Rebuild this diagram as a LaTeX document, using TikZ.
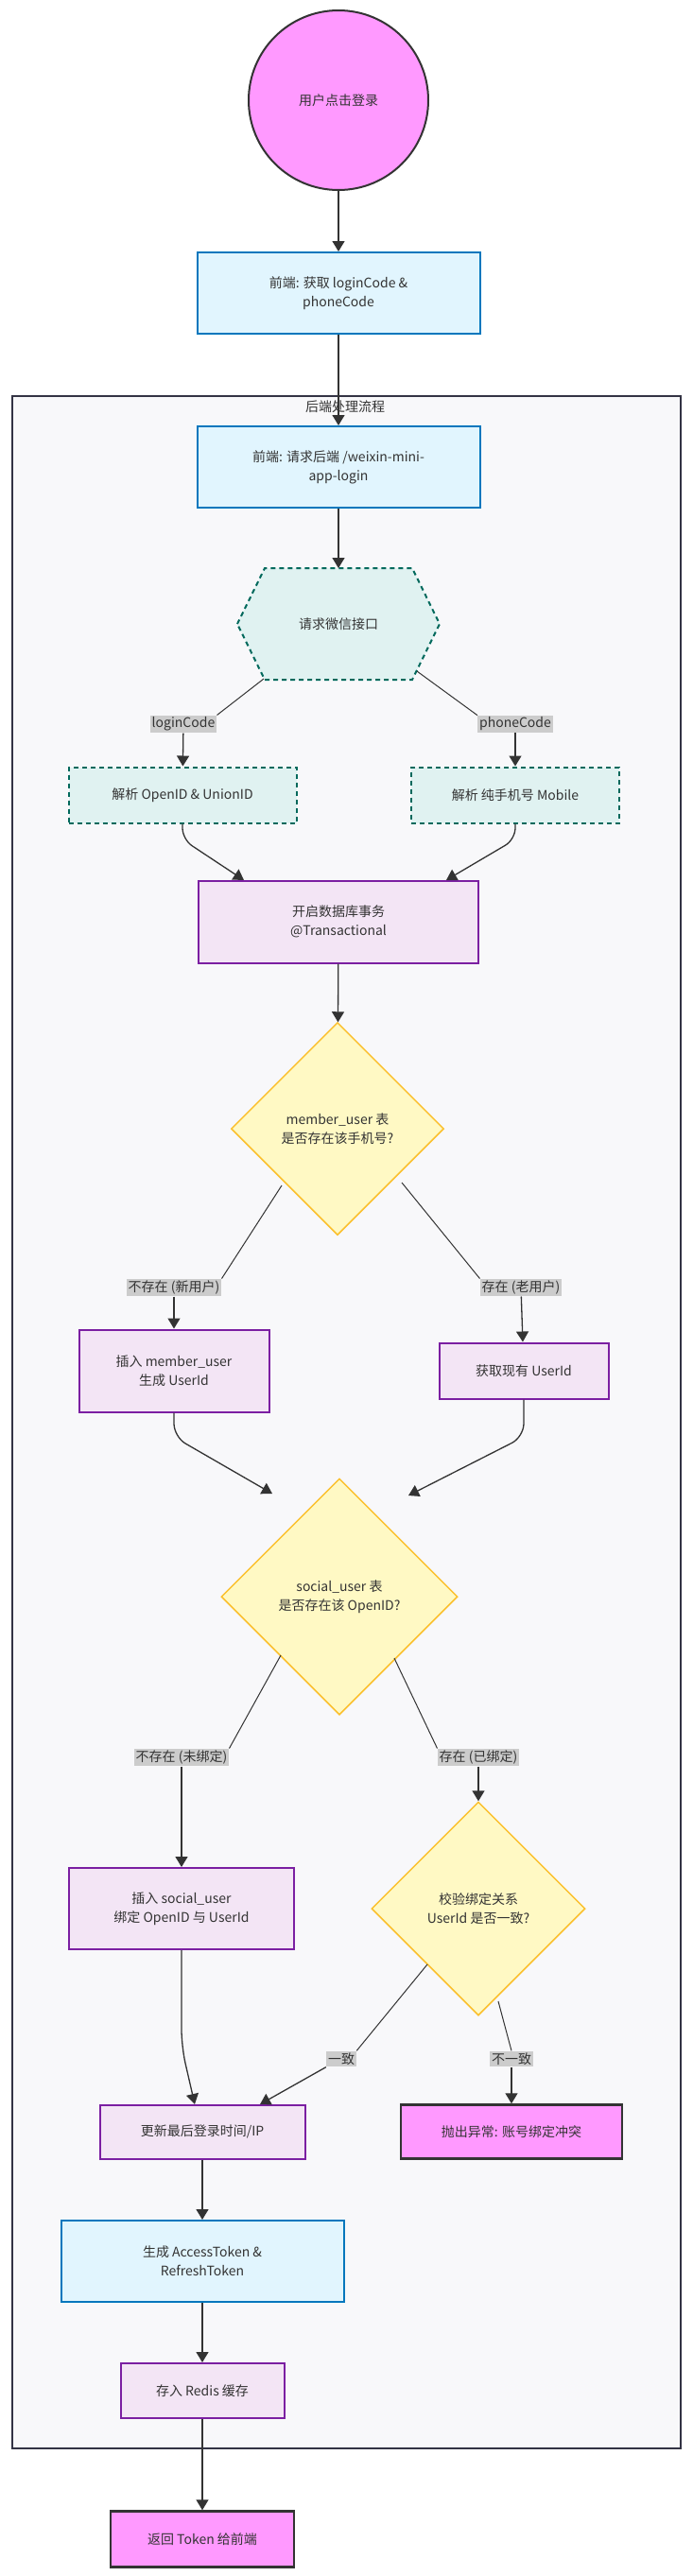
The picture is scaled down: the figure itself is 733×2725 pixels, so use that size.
\documentclass[tikz,border=0pt]{standalone}
\usepackage{fontspec}
\setmainfont{Noto Sans CJK SC}
\usetikzlibrary{shapes.geometric,arrows.meta}
\definecolor{pinkf}{HTML}{FF99FF}
\definecolor{dk}{HTML}{333333}
\definecolor{bluef}{HTML}{E1F5FE}\definecolor{blued}{HTML}{0277BD}
\definecolor{tealf}{HTML}{E0F2F1}\definecolor{teald}{HTML}{00695C}
\definecolor{purf}{HTML}{F3E5F5}\definecolor{purd}{HTML}{7B1FA2}
\definecolor{yelf}{HTML}{FFF9C4}\definecolor{yeld}{HTML}{FBC02D}
\definecolor{clf}{HTML}{F8F8FA}\definecolor{cld}{HTML}{333344}
\definecolor{lblf}{HTML}{CCCCCC}
\begin{document}
\begin{tikzpicture}[x=1pt,y=-1pt,font=\fontsize{14}{20}\selectfont,
 every node/.style={align=center,text=dk,inner sep=0pt},
 box/.style={rectangle,draw,line width=2pt,minimum width=#1},
 blue/.style={box=#1,fill=bluef,draw=blued},
 teal/.style={box=#1,fill=tealf,draw=teald,dashed,dash pattern=on 5pt off 4pt},
 pur/.style={box=#1,fill=purf,draw=purd},
 err/.style={box=#1,fill=pinkf,draw=dk,line width=2.5pt},
 dia/.style={diamond,fill=yelf,draw=yeld,line width=1.5pt,aspect=1},
 lbl/.style={fill=lblf,inner sep=2pt},
 ar/.style={draw=dk,line width=1.3pt,-{Triangle[length=11pt,width=13pt]}},
 ln/.style={draw=dk,line width=1pt}]
\useasboundingbox (0,0) rectangle (733,2725);
\node[draw=cld,fill=clf,line width=2pt,minimum width=707pt,minimum height=2171pt] (cl) at (366.5,1504.5) {};
\node (cllbl) at (365,430) {后端处理流程};
\node[circle,fill=pinkf,draw=dk,line width=2pt,minimum size=190pt] (start) at (358,106) {用户点击登录};
\node[blue=299pt,minimum height=86pt] (b1) at (358,310) {前端: 获取 loginCode \&\\phoneCode};
\node[blue=299pt,minimum height=86pt] (b2) at (358,494) {前端: 请求后端 /weixin-mini-\\app-login};
\node[regular polygon,regular polygon sides=6,shape border rotate=0,minimum size=10pt,draw=none] (hexc) at (358,660) {};
\path[fill=tealf,draw=teald,line width=2pt,dash pattern=on 5pt off 4pt]
 (251,660) -- (280,601) -- (436,601) -- (465,660) -- (436,719) -- (280,719) -- cycle;
\node (hex) at (358,660) {请求微信接口};
\coordinate (hexL) at (279,718);
\coordinate (hexR) at (441,710);
\node[teal=241pt,minimum height=59pt] (op) at (193,841) {解析 OpenID \& UnionID};
\node[teal=220pt,minimum height=59pt] (mo) at (545,841) {解析 纯手机号 Mobile};
\node[pur=296pt,minimum height=87pt] (tx) at (358,975) {开启数据库事务\\@Transactional};
\node[dia,minimum size=225pt] (d1) at (357,1194) {member\_user 表\\是否存在该手机号?};
\node[pur=201pt,minimum height=87pt] (ins1) at (184,1450) {插入 member\_user\\生成 UserId};
\node[pur=179pt,minimum height=59pt] (get) at (554,1450) {获取现有 UserId};
\node[dia,minimum size=250pt] (d2) at (359,1689) {social\_user 表\\是否存在该 OpenID?};
\node[pur=238pt,minimum height=86pt] (ins2) at (192,2019) {插入 social\_user\\绑定 OpenID 与 UserId};
\node[dia,minimum size=226pt] (d3) at (506,2019) {校验绑定关系\\UserId 是否一致?};
\node[pur=217pt,minimum height=57pt] (upd) at (214,2255) {更新最后登录时间/IP};
\node[err=234pt,minimum height=57pt] (exc) at (541,2255) {抛出异常: 账号绑定冲突};
\node[blue=299pt,minimum height=86pt] (tok) at (214,2392) {生成 AccessToken \&\\RefreshToken};
\node[pur=173pt,minimum height=58pt] (red) at (214,2529) {存入 Redis 缓存};
\node[err=194pt,minimum height=59pt] (ret) at (214,2686) {返回 Token 给前端};
% edge labels
\node[lbl] (l1) at (194,766) {loginCode};
\node[lbl] (l2) at (545,766) {phoneCode};
\node[lbl] (l3) at (184,1362) {不存在 (新用户)};
\node[lbl] (l4) at (551,1362) {存在 (老用户)};
\node[lbl] (l5) at (192,1859) {不存在 (未绑定)};
\node[lbl] (l6) at (506,1859) {存在 (已绑定)};
\node[lbl] (l7) at (361,2178) {一致};
\node[lbl] (l8) at (541,2178) {不一致};
% connectors
\begin{scope}[on background layer/.style={}]
\draw[ar] (start) -- (b1);
\draw[ar] (b1) -- (b2);
\draw[ar] (b2) -- (hex.center |- 0,601);
\draw[ln] (hexL) -- (l1.north east);
\draw[ln] (hexR) -- (l2.north west);
\draw[ar] (l1) -- (op);
\draw[ar] (l2) -- (mo);
\draw[ar,rounded corners=12pt] (op.south) -- (193,888) -- (258,931);
\draw[ar,rounded corners=12pt] (mo.south) -- (545,888) -- (472,931);
\draw[ar] (tx) -- (d1);
\draw[ln] (298,1254) -- (l3.north east);
\draw[ln] (425,1251) -- (l4.north west);
\draw[ar] (l3) -- (ins1);
\draw[ar] (l4) -- (get);
\draw[ar,rounded corners=14pt] (ins1.south) -- (184,1520) -- (288,1580);
\draw[ar,rounded corners=14pt] (get.south) -- (554,1520) -- (432,1582);
\draw[ln] (297,1751) -- (l5.north east);
\draw[ln] (417,1754) -- (l6.north west);
\draw[ar] (l5) -- (ins2);
\draw[ar] (l6) -- (d3.north);
\draw[ar,rounded corners=18pt] (ins2.south) -- (192,2165) -- (206,2226);
\draw[ln] (452,2078) -- (l7.north east);
\draw[ar] (l7.south west) -- (275,2226);
\draw[ln] (527,2117) -- (l8.north);
\draw[ar] (l8) -- (exc);
\draw[ar] (upd) -- (tok);
\draw[ar] (tok) -- (red);
\draw[ar] (red) -- (ret);
\end{scope}
\node[lbl] at (l1) {loginCode};
\node[lbl] at (l2) {phoneCode};
\node[lbl] at (l7) {一致};
\node[lbl] at (l8) {不一致};
\end{tikzpicture}
\end{document}
